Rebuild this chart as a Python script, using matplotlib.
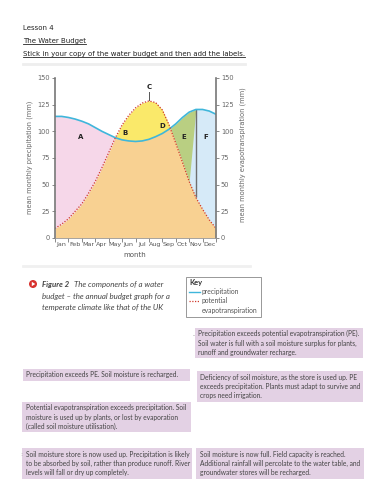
import numpy as np
import matplotlib.pyplot as plt
from matplotlib.patches import Rectangle, Circle, Polygon

# data (half-month steps, 0 = start of Jan, 12 = end of Dec)
months = ['Jan', 'Feb', 'Mar', 'Apr', 'May', 'Jun', 'Jul', 'Aug', 'Sep', 'Oct', 'Nov', 'Dec']
x_pts = np.arange(0, 12.5, 0.5)
precip = [114, 114, 113, 111.5, 109.5, 107, 103.5, 100, 97, 94, 92, 91, 90.5,
          91, 92.5, 95, 98, 102, 107, 113, 118, 120.5, 120.5, 119, 116]
pet = [9, 13, 18, 25, 32, 42, 53, 66, 80, 94, 106, 115, 122,
       126.5, 128.5, 127, 120, 106, 89, 71, 53, 38, 27, 17, 9]
y_ticks = [0, 25, 50, 75, 100, 125, 150]
region_labels = ['A', 'B', 'C', 'D', 'E', 'F']
region_pos = [(1.9, 95), (5.2, 98), (7.0, 142), (8.0, 105), (9.6, 95), (11.2, 95)]
field_capacity_month = 10.5

caption = ["The components of a water",
           "budget \u2013 the annual budget graph for a",
           "temperate climate like that of the UK"]
box_texts = [
    ["Precipitation exceeds potential evapotranspiration (PE).",
     "Soil water is full with a soil moisture surplus for plants,",
     "runoff and groundwater recharge."],
    ["Precipitation exceeds PE. Soil moisture is recharged."],
    ["Deficiency of soil moisture, as the store is used up. PE",
     "exceeds precipitation. Plants must adapt to survive and",
     "crops need irrigation."],
    ["Potential evapotranspiration exceeds precipitation. Soil",
     "moisture is used up by plants, or lost by evaporation",
     "(called soil moisture utilisation)."],
    ["Soil moisture store is now used up. Precipitation is likely",
     "to be absorbed by soil, rather than produce runoff. River",
     "levels will fall or dry up completely."],
    ["Soil moisture is now full. Field capacity is reached.",
     "Additional rainfall will percolate to the water table, and",
     "groundwater stores will be recharged."],
]
# box rectangles in page pixels: x0, y0, x1, y1
box_rects = [(195, 328, 363, 358), (23, 369, 190, 381), (197, 371, 363, 402),
             (22, 402, 191, 432), (22, 448, 192, 479), (196, 448, 364, 479)]

W, H = 386, 500
fig = plt.figure(figsize=(W / 100, H / 100), dpi=100)
fig.patch.set_facecolor('white')

page = fig.add_axes([0, 0, 1, 1])
page.set_xlim(0, W)
page.set_ylim(H, 0)
page.axis('off')

# ---- header text with underlines
hdr_font = dict(family='DejaVu Sans', fontsize=5.0, color='#222222', va='baseline')
page.text(23, 29.5, 'Lesson 4', **hdr_font)
t1 = page.text(23, 42.5, 'The Water Budget', **hdr_font)
t2 = page.text(23, 56, 'Stick in your copy of the water budget and then add the labels.', **hdr_font)
fig.canvas.draw()
inv = page.transData.inverted()
for t, yl in [(t1, 43.6), (t2, 57.2)]:
    bb = t.get_window_extent()
    (xa, _), (xb, _) = inv.transform([(bb.x0, bb.y0), (bb.x1, bb.y0)])
    page.plot([xa, xb], [yl, yl], color='#222222', lw=0.6)

# faint shadow lines from the pasted picture
page.plot([23, 245], [64, 64], color='#eeeeee', lw=2.0)
page.plot([23, 250], [266, 266], color='#f0f0f0', lw=2.0)

# ---- chart
ax = fig.add_axes([55 / W, 1 - 238 / H, 161 / W, 160 / H])
x = x_pts
P = np.array(precip)
E = np.array(pet)

ax.fill_between(x, 0, E, color='#f8d192', lw=0)
ax.fill_between(x, E, P, where=(P >= E) & (x < 6), interpolate=True, color='#f6d7e9', lw=0)
ax.fill_between(x, E, P, where=(E >= P), interpolate=True, color='#fae96a', lw=0)
ax.fill_between(x, E, P, where=(P >= E) & (x > 6) & (x <= field_capacity_month),
                interpolate=True, color='#b9cf82', lw=0)
ax.fill_between(x, E, P, where=(P >= E) & (x >= field_capacity_month),
                interpolate=True, color='#d6eaf8', lw=0)
i_fc = int(np.where(x == field_capacity_month)[0][0])
ax.vlines(field_capacity_month, E[i_fc], P[i_fc], color='#6f6f6f', lw=1.0)

ax.plot(x, P, color='#3fb6db', lw=1.2)
ax.plot(x, E, color='#d03a2c', lw=0.9, linestyle=(0, (1, 1.3)))

for lab, (lx, ly) in zip(region_labels, region_pos):
    ax.text(lx, ly, lab, fontsize=5, fontweight='bold', color='#222222',
            ha='center', va='center', family='DejaVu Sans')
ax.plot([7.0, 7.0], [137, 129.5], color='#555555', lw=0.7)

ax.set_xlim(0, 12)
ax.set_ylim(0, 150)
ax.set_facecolor('none')
ax.spines['top'].set_visible(False)
for s in ['left', 'right']:
    ax.spines[s].set_color('#777777')
    ax.spines[s].set_linewidth(1.2)
ax.spines['bottom'].set_color('#999999')
ax.spines['bottom'].set_linewidth(0.6)

ax.set_xticks(np.arange(0, 13))
ax.set_xticklabels([])
ax.set_xticks(np.arange(0.5, 12), minor=True)
ax.set_xticklabels(months, minor=True)
ax.tick_params(axis='x', which='major', length=3, width=0.6, color='#777777')
ax.tick_params(axis='x', which='minor', length=0, pad=3, labelsize=4.6, labelcolor='#555555')
ax.set_yticks(y_ticks)
ax.tick_params(axis='y', length=2.5, width=0.6, color='#777777', labelsize=4.8,
               labelcolor='#666666', pad=1, right=True, labelright=True)
for lbl in ax.get_xticklabels(minor=True) + ax.get_yticklabels():
    lbl.set_family('DejaVu Sans')

page.text(135, 255, 'month', fontsize=5, color='#555555', ha='center', va='center')
page.text(30, 157, 'mean monthly precipitation (mm)', fontsize=4.8, color='#666666',
          rotation=90, ha='center', va='center')
page.text(243, 155, 'mean monthly evapotranspiration (mm)', fontsize=4.8, color='#666666',
          rotation=90, ha='center', va='center')

# ---- caption with icon
page.add_patch(Circle((33, 284), 4.0, color='#d8322e', lw=0))
page.add_patch(Polygon([(31.8, 281.8), (31.8, 286.2), (35.3, 284)], closed=True, color='white', lw=0))
cap_font = dict(family='Lato', style='italic', fontsize=5.65, color='#444444', va='center')
fg = page.text(42.5, 284, 'Figure 2', fontweight='bold', **cap_font)
fig.canvas.draw()
bb = fg.get_window_extent()
xe = inv.transform((bb.x1, bb.y0))[0]
page.text(xe + 4, 284, caption[0], **cap_font)
page.text(42.5, 296, caption[1], **cap_font)
page.text(42.5, 307.5, caption[2], **cap_font)

# key box
page.add_patch(Rectangle((186, 276.5), 75, 40, fill=False, ec='#888888', lw=0.6))
page.text(189, 283, 'Key', family='Lato', fontweight='bold', fontsize=5.4, color='#333333', va='center')
page.plot([189, 200], [292, 292], color='#3fb6db', lw=1.0)
page.plot([189, 200], [301, 301], color='#d03a2c', lw=0.9, linestyle=(0, (1, 1.2)))
key_font = dict(family='Lato', fontsize=4.9, color='#555555', va='center')
page.text(202, 291.5, 'precipitation', **key_font)
page.text(202, 301, 'potential', **key_font)
page.text(202, 310.5, 'evapotranspiration', **key_font)

# ---- labelled boxes
box_font = dict(family='Lato', fontsize=4.8, color='#444444', va='center')
for lines, (x0, y0, x1, y1) in zip(box_texts, box_rects):
    page.add_patch(Rectangle((x0, y0), x1 - x0, y1 - y0, color='#e3d1e4', lw=0))
    n = len(lines)
    yc = (y0 + y1) / 2
    for k, line in enumerate(lines):
        page.text(x0 + 3.5, yc + (k - (n - 1) / 2) * 9.2, line, **box_font)
page.text(193.5, 335, '.', fontsize=4.5, color='#444444', va='center', ha='center')
page.text(21.5, 455, ':', fontsize=4.5, color='#999999', va='center', ha='center')

fig.savefig('out.png', dpi=100, facecolor='white')
